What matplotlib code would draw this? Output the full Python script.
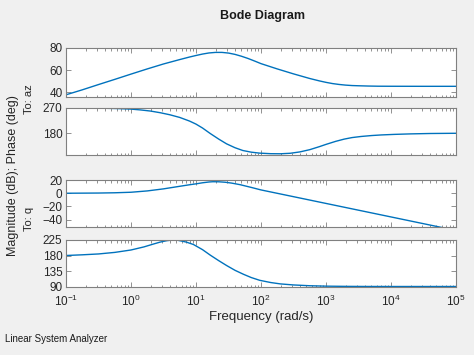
import numpy as np
import matplotlib
matplotlib.use("Agg")
import matplotlib.pyplot as plt
from matplotlib.ticker import FixedLocator, NullFormatter

plt.rcParams['font.family'] = ['Liberation Sans', 'DejaVu Sans']

# log10 of frequency (rad/s) and values
logw_az_mag = [-1, -0.75, -0.5, -0.25, 0, 0.25, 0.5, 0.75, 0.9, 1, 1.1, 1.2, 1.3, 1.4, 1.5, 1.6, 1.7, 1.8, 1.9, 2, 2.25, 2.5, 2.75, 2.9, 3, 3.1, 3.2, 3.3, 3.4, 3.5, 3.65, 3.8, 4, 4.5, 5]
az_mag = [37.5, 42, 46.8, 51.5, 56.3, 61, 65.5, 69.5, 71.8, 73.2, 74.5, 75.5, 76.0, 76.0, 75.4, 74.2, 72.5, 70.5, 68.2, 65.8, 61, 56.5, 52.3, 50.1, 48.8, 47.7, 46.9, 46.3, 45.9, 45.7, 45.45, 45.3, 45.25, 45.2, 45.2]

logw_az_ph = [-1, -0.5, -0.2, 0, 0.15, 0.3, 0.45, 0.6, 0.75, 0.9, 1, 1.1, 1.22, 1.35, 1.47, 1.6, 1.72, 1.85, 1.98, 2.15, 2.3, 2.45, 2.6, 2.75, 2.9, 3, 3.15, 3.28, 3.4, 3.54, 3.7, 3.85, 4.05, 4.3, 4.6, 5]
az_ph = [270, 269.5, 268, 266, 263, 259, 253, 245.5, 236, 223, 212, 198, 178, 158, 141, 127, 117, 111, 107.5, 105.5, 105.2, 107, 112, 120, 131, 139, 150, 158, 163.5, 167.5, 170.8, 173, 175, 176.8, 178.2, 179]

logw_q_mag = [-1, -0.5, -0.25, 0, 0.25, 0.5, 0.75, 0.9, 1, 1.1, 1.2, 1.26, 1.35, 1.45, 1.55, 1.68, 1.85, 2, 2.25, 2.5, 3, 3.5, 4, 4.5, 5]
q_mag = [0, 0.3, 0.7, 1.5, 3.5, 6.6, 10.5, 12.8, 14.2, 15.8, 17.0, 17.4, 17.3, 16.6, 15.3, 12.9, 8.8, 5.0, -0.1, -5.2, -15.4, -25.6, -35.8, -46, -56.2]

logw_q_ph = [-1, -0.75, -0.5, -0.25, 0, 0.2, 0.34, 0.45, 0.55, 0.63, 0.72, 0.85, 0.96, 1.1, 1.22, 1.35, 1.47, 1.6, 1.73, 1.85, 1.98, 2.15, 2.3, 2.5, 2.75, 3, 3.3, 3.6, 4, 5]
q_ph = [180, 182, 184.5, 189, 196, 205, 213, 219, 223, 224.8, 224.2, 219, 212, 197, 181, 165, 151, 137, 125.5, 116, 108, 101.5, 97.5, 94.5, 92.2, 91, 90.4, 90.1, 90, 90]

ylims = [(35.5, 80), (100.8, 270), (-51, 20), (90, 225)]
yticks = [[40, 60, 80], [180, 270], [-40, -20, 0, 20], [90, 135, 180, 225]]
xticks = [1e-1, 1e0, 1e1, 1e2, 1e3, 1e4, 1e5]
xlim = (0.1, 1e5)

W, H = 474, 355
fig = plt.figure(figsize=(W / 100, H / 100), dpi=100)
fig.patch.set_facecolor('#f0f0f0')

# panel pixel boxes: (top, bottom)
boxes = [(48, 97), (108, 155), (180, 227), (240, 286.5)]
left, right = 66, 456
line_color = '#0072BD'
edge = '#808080'
txt = '#262626'

minor_ticks = [m * d for d in xticks[:-1] for m in range(2, 10)]

series = [(logw_az_mag, az_mag), (logw_az_ph, az_ph), (logw_q_mag, q_mag), (logw_q_ph, q_ph)]
axes = []
for i, ((top, bot), (lw_, vals)) in enumerate(zip(boxes, series)):
    ax = fig.add_axes([left / W, 1 - bot / H, (right - left) / W, (bot - top) / H])
    ax.set_facecolor('white')
    w = 10.0 ** np.array(lw_)
    ax.plot(w, vals, color=line_color, lw=1.0, clip_on=True, solid_joinstyle='round')
    ax.set_xscale('log')
    ax.set_xlim(*xlim)
    ax.set_ylim(*ylims[i])
    ax.set_yticks(yticks[i])
    ax.xaxis.set_major_locator(FixedLocator(xticks))
    ax.xaxis.set_minor_locator(FixedLocator(minor_ticks))
    ax.xaxis.set_minor_formatter(NullFormatter())
    ax.tick_params(which='both', direction='in', top=True, right=True, colors=edge,
                   labelcolor=txt, labelsize=8.5, width=0.6)
    ax.tick_params(which='major', length=3.5)
    ax.tick_params(which='minor', length=1.8)
    ax.tick_params(axis='y', pad=2.5)
    ax.tick_params(axis='x', which='minor', labelbottom=False)
    for s in ax.spines.values():
        s.set_color(edge)
        s.set_linewidth(0.8)
    if i < 3:
        ax.tick_params(axis='x', which='both', labelbottom=False)
    else:
        ax.tick_params(axis='x', which='major', pad=5)
    axes.append(ax)

fig.text(262 / W, 1 - 16 / H, 'Bode Diagram', ha='center', va='center', fontsize=9, fontweight='bold', color='#1a1a1a')
fig.text(261 / W, 1 - 317 / H, 'Frequency (rad/s)', ha='center', va='center', fontsize=9.5, color=txt)
fig.text(13 / W, 1 - 176 / H, 'Magnitude (dB); Phase (deg)', ha='center', va='center', rotation=90, fontsize=9, color=txt)
fig.text(29 / W, 1 - 99 / H, 'To: az', ha='center', va='center', rotation=90, fontsize=8, color=txt)
fig.text(29 / W, 1 - 219 / H, 'To: q', ha='center', va='center', rotation=90, fontsize=8, color=txt)
fig.text(5 / W, 1 - 339 / H, 'Linear System Analyzer', ha='left', va='center', fontsize=7, color='#1a1a1a')

fig.savefig('out.png', dpi=100, facecolor=fig.get_facecolor())
